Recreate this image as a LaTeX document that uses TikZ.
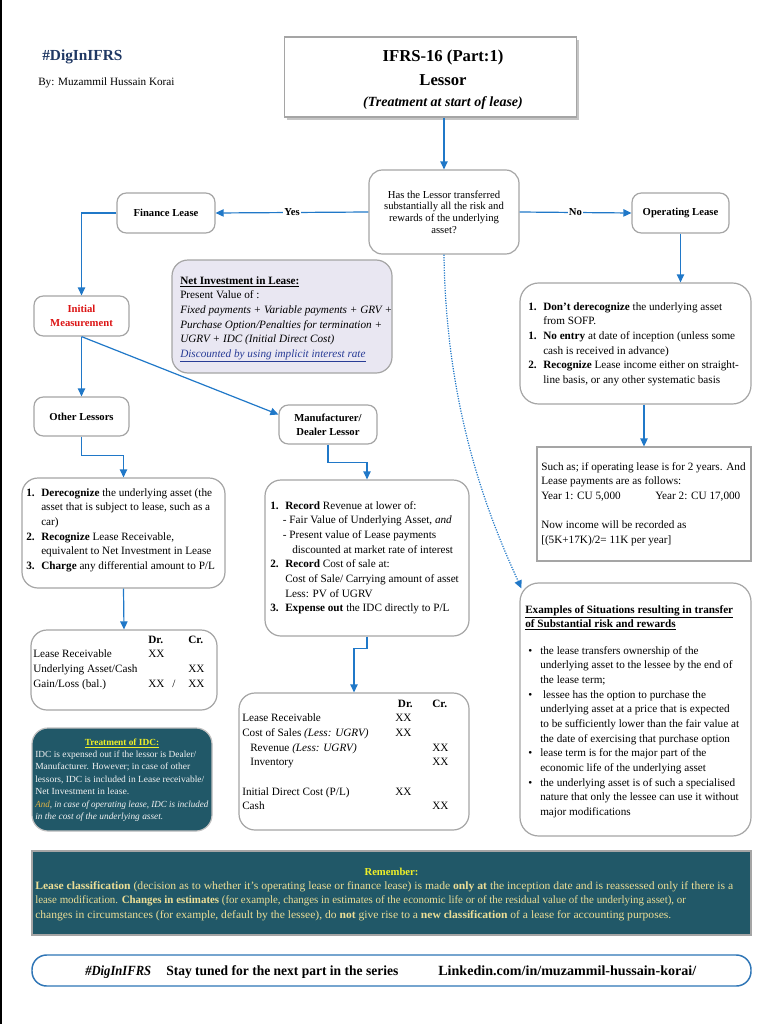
\documentclass[tikz,border=0pt]{standalone}
\usepackage{fontspec}
\setmainfont{Liberation Serif}
\usepackage{graphicx}
\usetikzlibrary{arrows.meta,calc,shadows}
\definecolor{arrowblue}{RGB}{32,120,200}
\definecolor{boxgray}{RGB}{165,165,165}
\definecolor{navy}{RGB}{31,56,100}
\definecolor{tealbg}{RGB}{33,88,104}
\definecolor{lav}{RGB}{233,231,242}
\definecolor{khakitxt}{RGB}{236,222,150}
\definecolor{yeltxt}{RGB}{240,240,40}
\definecolor{goldtxt}{RGB}{225,180,70}
\definecolor{redtxt}{RGB}{220,20,20}
\definecolor{linkblue}{RGB}{40,60,150}
\definecolor{footblue}{RGB}{46,117,182}
\definecolor{idcwhite}{RGB}{242,242,242}
\newcommand{\hx}[2]{\resizebox{#1}{\height}{#2}}
\newcommand{\numb}[1]{\makebox[11.25pt][l]{\textbf{#1}}}
\newcommand{\indt}{\hspace*{11.25pt}}
\newcommand{\bul}{\makebox[9pt][l]{\textbullet}}
\begin{document}
\begin{tikzpicture}[x=0.75pt,y=-0.75pt,font=\fontsize{8.4}{11}\selectfont,
  box/.style={draw=boxgray, line width=0.9pt, rounded corners=9pt, fill=white, inner sep=0pt},
  sbox/.style={box, rounded corners=7pt, font=\bfseries\fontsize{8}{10.5}\selectfont, align=center},
  arr/.style={draw=arrowblue, line width=0.9pt, -{Triangle[length=6pt,width=5.5pt]}},
  txt/.style={anchor=base west, inner sep=0pt},
  lbl/.style={fill=white, inner sep=1pt, font=\bfseries\fontsize{8}{10}\selectfont}]
\useasboundingbox (0,0) rectangle (768,1024);
\fill[white] (0,0) rectangle (768,1024);
\draw[black, line width=1.2pt] (1,0) -- (1,1024);

% header
\node[txt, font=\bfseries\fontsize{11.5}{13}\selectfont, text=navy] (tag) at (42,61) {\#DigInIFRS};
\node[txt, font=\fontsize{8.4}{10}\selectfont] (by) at (38,85) {By: Muzammil Hussain Korai};

% title
\node[draw=boxgray, line width=0.8pt, fill=white, minimum width=219pt, minimum height=60pt, inner sep=0pt,
  drop shadow={shadow xshift=1.5pt,shadow yshift=-2pt,opacity=0.45}] (title) at (430.5,77) {};
\node[anchor=base, font=\bfseries\fontsize{12.5}{14}\selectfont] (t1) at (443,62) {IFRS-16 (Part:1)};
\node[anchor=base, font=\bfseries\fontsize{12.5}{14}\selectfont] (t2) at (443,85) {Lessor};
\node[anchor=base, font=\bfseries\itshape\fontsize{10.5}{12}\selectfont] (t3) at (443,106) {(Treatment at start of lease)};

% question
\node[box, rounded corners=10pt, minimum width=112.5pt, minimum height=63pt, align=center,
  font=\fontsize{8}{8.7}\selectfont] (q) at (444,212)
  {Has the Lessor transferred\\substantially all the risk and\\rewards of the underlying\\asset?};

\node[sbox, minimum width=73.5pt, minimum height=30pt] (fl) at (166,213) {Finance Lease};
\node[sbox, minimum width=72.75pt, minimum height=30pt] (opl) at (680.5,213) {Operating Lease};
\node[sbox, minimum width=71.25pt, minimum height=30pt, text=redtxt] (im) at (81.5,316) {Initial\\Measurement};
\node[sbox, minimum width=71.25pt, minimum height=29.25pt] (olr) at (81.5,416.5) {Other Lessors};
\node[sbox, minimum width=73.5pt, minimum height=29.25pt] (md) at (328,424.5) {Manufacturer/\\Dealer Lessor};

% net investment
\node[box, fill=lav, rounded corners=12pt, minimum width=165pt, minimum height=84.75pt] (ni) at (282,316.5) {};
\node[txt] (nit) at (180,284) {\begin{tabular}[t]{@{}l@{}}
\textbf{\underline{Net Investment in Lease:}}\\
Present Value of :\\
\textit{Fixed payments + Variable payments + GRV +}\\
\textit{Purchase Option/Penalties for termination +}\\
\textit{UGRV + IDC (Initial Direct Cost)}\\
\textcolor{linkblue}{\underline{\textit{Discounted by using implicit interest rate}}}
\end{tabular}};

% other lessors detail
\node[box, rounded corners=12pt, minimum width=152.25pt, minimum height=82.5pt] (od) at (123.5,533) {};
\node[txt] (odt) at (26,496) {\begin{tabular}[t]{@{}l@{}}
\numb{1.}\textbf{Derecognize} the underlying asset (the\\
\indt asset that is subject to lease, such as a\\
\indt car)\\
\numb{2.}\textbf{Recognize} Lease Receivable,\\
\indt equivalent to Net Investment in Lease\\
\numb{3.}\textbf{Charge} any differential amount to P/L
\end{tabular}};

% other journal
\node[box, rounded corners=12pt, minimum width=139.5pt, minimum height=60pt] (oj) at (124,670) {};
\node[txt] (ojt) at (33,643) {\begin{tabular}[t]{@{}p{86.25pt}@{}p{30pt}@{}l@{}}
 & \textbf{Dr.} & \textbf{Cr.}\\
Lease Receivable & XX & \\
Underlying Asset/Cash & & XX\\
Gain/Loss (bal.) & \makebox[18pt][l]{XX}/ & XX
\end{tabular}};

% manufacturer detail
\node[box, rounded corners=12pt, minimum width=153pt, minimum height=117pt] (mdd) at (367,558) {};
\node[txt] (mddt) at (270,509) {\begin{tabular}[t]{@{}l@{}}
\numb{1.}\textbf{Record} Revenue at lower of:\\
\hspace*{9.5pt}- Fair Value of Underlying Asset, \textit{and}\\
\hspace*{9.5pt}- Present value of Lease payments\\
\hspace*{16.5pt}discounted at market rate of interest\\
\numb{2.}\textbf{Record} Cost of sale at:\\
\indt Cost of Sale/ Carrying amount of asset\\
\indt Less: PV of UGRV\\
\numb{3.}\textbf{Expense out} the IDC directly to P/L
\end{tabular}};

% manufacturer journal
\node[box, rounded corners=12pt, minimum width=172.5pt, minimum height=102.75pt] (mdj) at (354,761.5) {};
\node[txt] (mdjt) at (242,707) {\begin{tabular}[t]{@{}p{114.75pt}@{}p{27.75pt}@{}l@{}}
 & \hspace*{2pt}\textbf{Dr.} & \textbf{Cr.}\\
Lease Receivable & XX & \\
Cost of Sales \textit{(Less: UGRV)} & XX & \\
\hspace*{6pt}Revenue \textit{(Less: UGRV)} & & XX\\
\hspace*{6pt}Inventory & & XX\\
 & & \\
Initial Direct Cost (P/L) & XX & \\
Cash & & XX
\end{tabular}};

% IDC box
\node[box, fill=tealbg, draw=boxgray!70, rounded corners=12pt, minimum width=135pt, minimum height=77.25pt] (idc) at (122,779.5) {};
\node[anchor=base, inner sep=0pt, font=\bfseries\fontsize{7}{9}\selectfont, text=yeltxt] (idct) at (122,745) {\underline{Treatment of IDC:}};
\node[txt, text=idcwhite, font=\fontsize{7}{9.4}\selectfont] (idcb) at (35,757) {\begin{tabular}[t]{@{}l@{}}
\hx{120.75pt}{IDC is expensed out if the lessor is Dealer/}\\
\hx{116.25pt}{Manufacturer. However; in case of other}\\
\hx{126.75pt}{lessors, IDC is included in Lease receivable/}\\
\hx{70.5pt}{Net Investment in lease.}\\
\hx{129.75pt}{\textit{\textcolor{goldtxt}{And}, in case of operating lease, IDC is included}}\\
\hx{96pt}{\textit{in the cost of the underlying asset.}}
\end{tabular}};

% operating lease detail
\node[box, rounded corners=14pt, minimum width=173.25pt, minimum height=90.75pt] (old) at (635.5,343.5) {};
\node[txt] (oldt) at (528,310) {\begin{tabular}[t]{@{}l@{}}
\numb{1.}\textbf{Don’t derecognize} the underlying asset\\
\indt from SOFP.\\
\numb{1.}\textbf{No entry} at date of inception (unless some\\
\indt cash is received in advance)\\
\numb{2.}\textbf{Recognize} Lease income either on straight-\\
\indt line basis, or any other systematic basis
\end{tabular}};

% example rectangle
\node[draw=boxgray, line width=0.8pt, fill=white, inner sep=0pt, minimum width=160.5pt, minimum height=85.5pt] (ex) at (644,504) {};
\node[txt] (ext) at (541,470) {\begin{tabular}[t]{@{}l@{}}
Such as; if operating lease is for 2 years. And\\
Lease payments are as follows:\\
\makebox[85.5pt][l]{Year 1: CU 5,000}Year 2: CU 17,000\\
\\
Now income will be recorded as\\
{[}(5K+17K)/2= 11K per year]
\end{tabular}};

% examples box
\node[box, rounded corners=14pt, minimum width=173.25pt, minimum height=189.75pt] (exs) at (635.5,709.5) {};
\node[txt, font=\bfseries\fontsize{8.4}{9.8}\selectfont] (exst) at (525,613) {\begin{tabular}[t]{@{}l@{}}
\underline{Examples of Situations resulting in transfer}\\
\underline{of Substantial risk and rewards}
\end{tabular}};
\node[txt] (exsb) at (528,654) {\begin{tabular}[t]{@{}l@{}}
\bul the lease transfers ownership of the\\
\hspace*{9pt}underlying asset to the lessee by the end of\\
\hspace*{9pt}the lease term;\\
\bul\ lessee has the option to purchase the\\
\hspace*{9pt}underlying asset at a price that is expected\\
\hspace*{9pt}to be sufficiently lower than the fair value at\\
\hspace*{9pt}the date of exercising that purchase option\\
\bul lease term is for the major part of the\\
\hspace*{9pt}economic life of the underlying asset\\
\bul the underlying asset is of such a specialised\\
\hspace*{9pt}nature that only the lessee can use it without\\
\hspace*{9pt}major modifications
\end{tabular}};

% remember box
\node[draw=boxgray, line width=0.8pt, fill=tealbg, inner sep=0pt, minimum width=539.25pt, minimum height=63pt] (rem) at (391.5,893) {};
\node[anchor=base, inner sep=0pt, font=\bfseries\fontsize{8}{10}\selectfont, text=yeltxt] (remt) at (391.5,875) {Remember:};
\node[txt, text=khakitxt, font=\fontsize{8.4}{10.9}\selectfont] (remb) at (35,889) {\begin{tabular}[t]{@{}l@{}}
\hx{523.5pt}{\textbf{Lease classification} (decision as to whether it’s operating lease or finance lease) is made \textbf{only at} the inception date and is reassessed only if there is a}\\
\hx{488pt}{lease modification. \textbf{Changes in estimates} (for example, changes in estimates of the economic life or of the residual value of the underlying asset), or}\\
\hx{477pt}{changes in circumstances (for example, default by the lessee), do \textbf{not} give rise to a \textbf{new classification} of a lease for accounting purposes.}
\end{tabular}};

% footer
\node[draw=footblue, line width=1.1pt, fill=white, rounded corners=11pt, inner sep=0pt, minimum width=539.25pt, minimum height=23.25pt] (foot) at (391.5,970.5) {};
\node[txt, font=\bfseries\itshape\fontsize{10.5}{12}\selectfont] (f1) at (85,975) {\hx{49.5pt}{\#DigInIFRS}};
\node[txt, font=\bfseries\fontsize{10.5}{12}\selectfont] (f2) at (166,975) {\hx{174pt}{Stay tuned for the next part in the series}};
\node[txt, font=\bfseries\fontsize{10.5}{12}\selectfont] (f3) at (438,975) {\hx{193.5pt}{Linkedin.com/in/muzammil-hussain-korai/}};

% connectors
\draw[arr] (q.north |- title.south) -- (q.north);
\draw[arr] (q.west) -- node[lbl]{Yes} (fl.east);
\draw[arr] (q.east) -- node[lbl]{No} (opl.west);
\draw[arr] (fl.west) -| (im.north);
\draw[arr] (im.south) -- (olr.north);
\draw[arr] (im.south) -- ($(md.west)+(0,-10)$);
\draw[arr] (olr.south) -- ++(0,19) -| (od.north);
\draw[arr] (od.south) -- (oj.north);
\draw[arr] (md.south) -- ++(0,18) -| (mdd.north);
\draw[arr] (mdd.south) -- ++(0,12) -| (mdj.north);
\draw[arr] (opl.south) -- (opl.south |- old.north);
\draw[arr] (ex.north |- old.south) -- (ex.north);
\draw[draw=arrowblue, line width=0.9pt, densely dotted, -{Triangle[length=6pt,width=5.5pt]}]
  (q.south) .. controls (446,420) and (495,530) .. ($(exs.north west)+(2,6)$);
\end{tikzpicture}
\end{document}
